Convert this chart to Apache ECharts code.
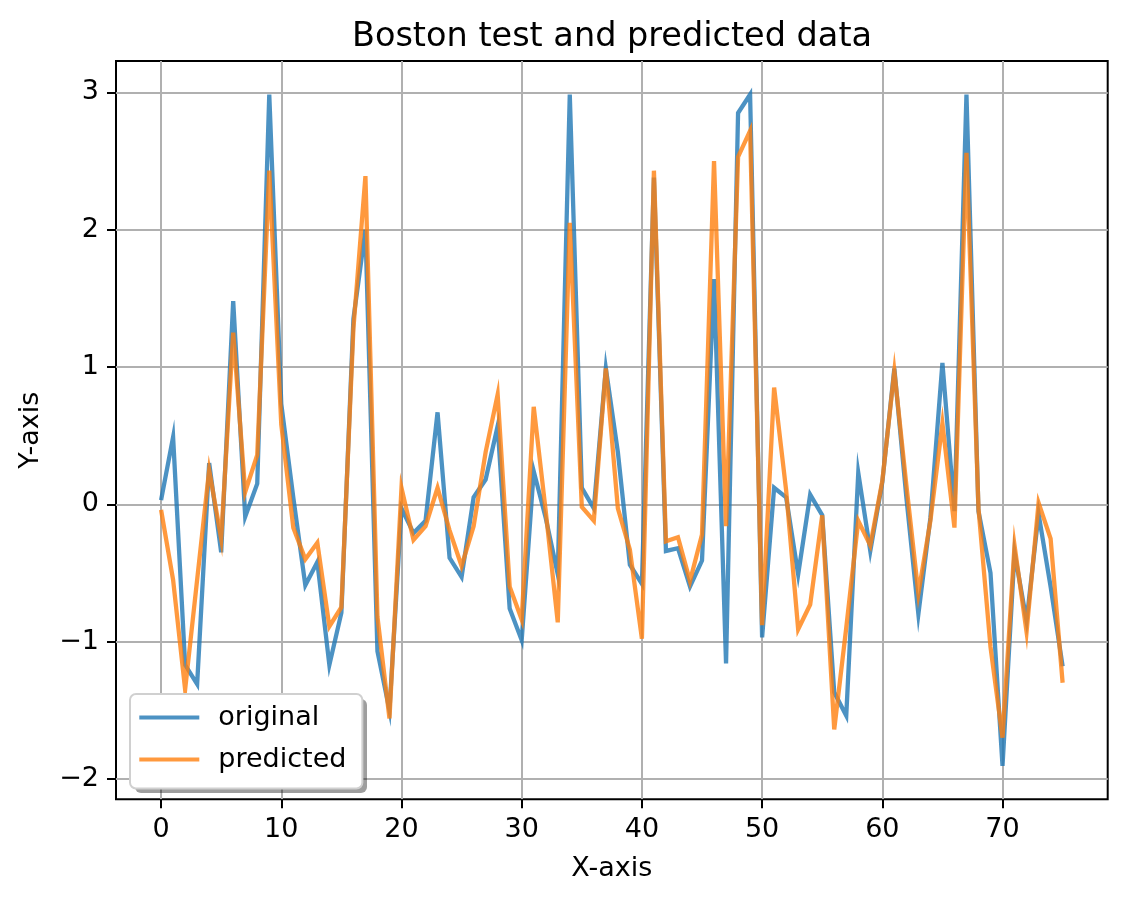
<!DOCTYPE html>
<html>
<head>
<meta charset="utf-8">
<script src="https://cdn.jsdelivr.net/npm/echarts@6/dist/echarts.min.js"></script>
<style>
html,body{margin:0;padding:0;background:#fff;}
#chart{width:1134px;height:898px;}
</style>
</head>
<body>
<div id="chart"></div>
<script>
const xIndex = Array.from({length: 76}, (_, i) => i);
const original = [
  0.03, 0.49, -1.17, -1.31, 0.30, -0.35, 1.48, -0.09, 0.15, 2.985,
  0.73, 0.05, -0.59, -0.42, -1.17, -0.79, 1.35, 2.00, -1.07, -1.50,
  -0.03, -0.21, -0.12, 0.67, -0.39, -0.53, 0.05, 0.18, 0.57, -0.76,
  -0.99, 0.24, -0.10, -0.51, 2.985, 0.12, -0.03, 0.99, 0.38, -0.44,
  -0.58, 2.38, -0.34, -0.32, -0.60, -0.41, 1.64, -1.16, 2.85, 2.985,
  -0.97, 0.12, 0.05, -0.51, 0.07, -0.08, -1.37, -1.54, 0.23, -0.34,
  0.16, 0.99, 0.05, -0.80, -0.10, 1.03, -0.05, 2.985, -0.05, -0.50,
  -1.905, -0.35, -0.85, -0.07, -0.60, -1.18
];
const predicted = [
  -0.04, -0.55, -1.35, -0.55, 0.25, -0.25, 1.25, 0.09, 0.36, 2.43,
  0.58, -0.17, -0.40, -0.28, -0.89, -0.75, 1.28, 2.39, -0.82, -1.56,
  0.12, -0.26, -0.16, 0.12, -0.19, -0.45, -0.16, 0.38, 0.80, -0.60,
  -0.84, 0.71, -0.05, -0.86, 2.05, -0.02, -0.12, 0.99, -0.03, -0.33,
  -0.98, 2.43, -0.27, -0.24, -0.56, -0.22, 2.50, -0.16, 2.53, 2.72,
  -0.88, 0.85, 0.10, -0.91, -0.73, -0.08, -1.64, -0.90, -0.12, -0.30,
  0.17, 0.97, 0.14, -0.65, -0.12, 0.59, -0.17, 2.56, -0.03, -1.04,
  -1.70, -0.30, -0.93, 0.01, -0.25, -1.30
];
const xTicks = [0, 10, 20, 30, 40, 50, 60, 70];
const yTicks = [-2, -1, 0, 1, 2, 3];
const seriesNames = ['original', 'predicted'];
const seriesColors = ['#1f77b4', '#ff7f0e'];

const FONT = 'DejaVu Sans';
const fmtNum = v => (v < 0 ? '\u2212' + Math.abs(v) : String(v));

const chart = echarts.init(document.getElementById('chart'), null, {renderer: 'canvas'});
chart.setOption({
  animation: false,
  backgroundColor: '#fff',
  title: {
    text: 'Boston test and predicted data',
    left: 612,
    textAlign: 'center',
    top: 20,
    padding: 0,
    textStyle: {fontFamily: FONT, fontSize: 33.5, fontWeight: 'normal', color: '#000'}
  },
  grid: {
    left: 116, right: 26.3, top: 61, bottom: 98.7,
    show: true, borderColor: '#000', borderWidth: 2, backgroundColor: 'transparent'
  },
  graphic: [{
    type: 'rect',
    z: 9,
    silent: true,
    shape: {x: 135, y: 699, width: 232, height: 94, r: 6},
    style: {fill: 'rgba(0,0,0,0.38)'}
  }],
  legend: {
    z: 10,
    orient: 'vertical',
    left: 130, top: 694,
    padding: [10, 16, 15.5, 9.3],
    itemGap: 15,
    itemWidth: 60, itemHeight: 4,
    icon: 'rect',
    backgroundColor: '#fff',
    borderColor: '#d0d0d0', borderWidth: 2, borderRadius: 6,
    textStyle: {fontFamily: FONT, fontSize: 27, color: '#000', padding: [0, 0, 0, 14]},
    data: seriesNames.map(n => ({name: n, itemStyle: {opacity: 0.8}}))
  },
  xAxis: {
    type: 'value',
    min: -3.75, max: 78.75,
    minInterval: 10, maxInterval: 10,
    name: 'X-axis', nameLocation: 'middle', nameGap: 56,
    nameTextStyle: {fontFamily: FONT, fontSize: 27, color: '#000'},
    axisLine: {show: false, onZero: false},
    axisTick: {show: true, inside: false, length: 9, customValues: xTicks, lineStyle: {color: '#000', width: 2}},
    axisLabel: {customValues: xTicks, margin: 17, fontFamily: FONT, fontSize: 27, color: '#000', formatter: fmtNum},
    splitLine: {show: true, lineStyle: {color: '#b0b0b0', width: 2}}
  },
  yAxis: {
    type: 'value',
    min: -2.149, max: 3.229,
    minInterval: 1, maxInterval: 1,
    name: 'Y-axis', nameLocation: 'middle', nameGap: 72,
    nameTextStyle: {fontFamily: FONT, fontSize: 27, color: '#000'},
    axisLine: {show: false, onZero: false},
    axisTick: {show: true, inside: false, length: 9, customValues: yTicks, lineStyle: {color: '#000', width: 2}},
    axisLabel: {customValues: yTicks, margin: 17, fontFamily: FONT, fontSize: 27, color: '#000', formatter: fmtNum},
    splitLine: {show: true, lineStyle: {color: '#b0b0b0', width: 2}}
  },
  series: [original, predicted].map((arr, k) => ({
    name: seriesNames[k],
    type: 'line',
    data: xIndex.map(i => [i, arr[i]]),
    showSymbol: false,
    symbol: 'none',
    color: seriesColors[k],
    itemStyle: {color: seriesColors[k]},
    lineStyle: {color: seriesColors[k], width: 4.3, opacity: 0.8, join: 'miter'},
    emphasis: {disabled: true},
    z: 2 + k
  }))
});
</script>
</body>
</html>
